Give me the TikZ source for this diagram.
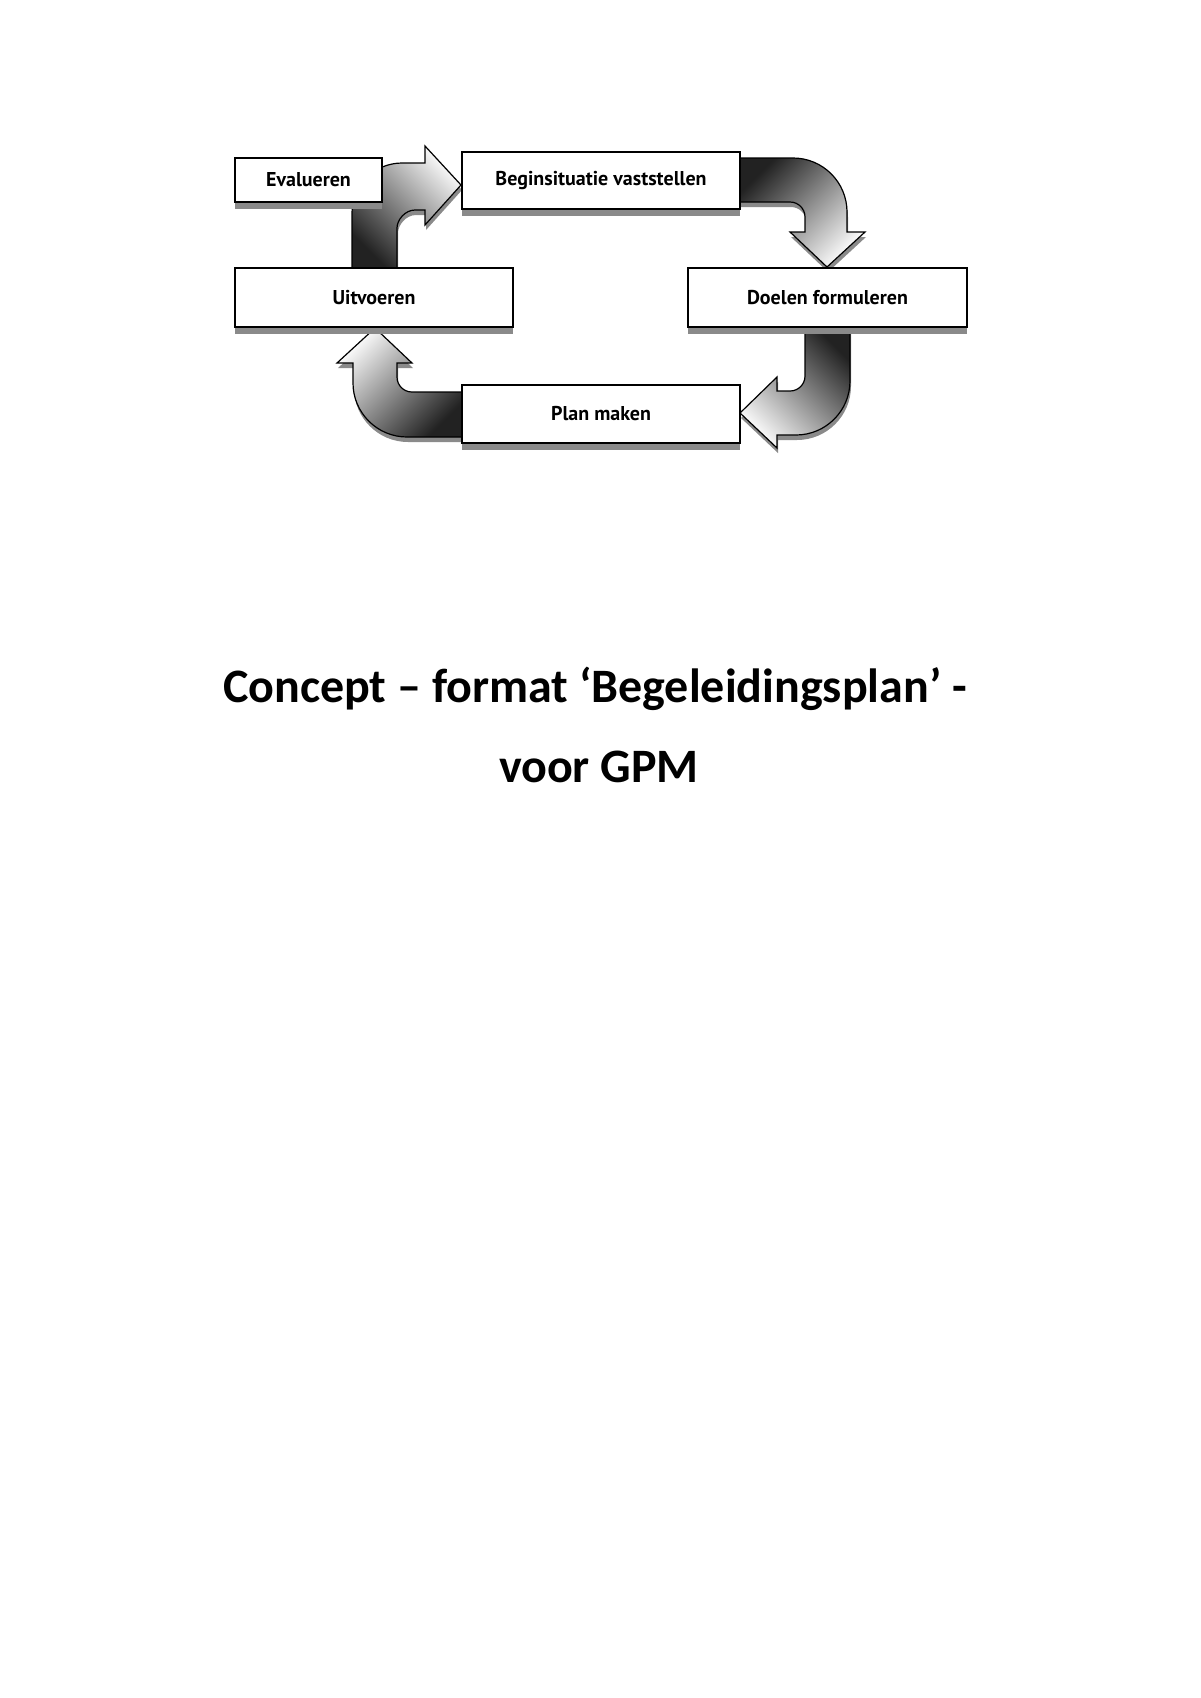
\documentclass[tikz,border=0pt]{standalone}
\usepackage{fontspec}
\setmainfont{Carlito}
\newfontfamily\boxfont{PT Sans}
\usetikzlibrary{shadows}
\definecolor{shgray}{HTML}{8A8A8A}
\definecolor{ardark}{HTML}{222222}
\definecolor{arlight}{HTML}{FAFAFA}
\tikzset{
  stepbox/.style={draw=black, line width=0.8pt, fill=white, inner sep=0pt,
    font=\boxfont\bfseries\fontsize{10}{12}\selectfont,
    drop shadow={shadow xshift=0pt, shadow yshift=-3.5pt, fill=shgray, opacity=1}},
  arshadow/.style={fill=shgray, shift={(1,5)}},
  arline/.style={draw=black, line width=0.6pt},
  titletext/.style={font=\bfseries\fontsize{24}{29}\selectfont, inner sep=0pt, anchor=base}
}
\def\gpmArrowA{(352,268) -- (352,213) .. controls (352,185.4) and (374.4,163) .. (402,163) -- (425,163) -- (425,146) -- (461,185) -- (425,225) -- (425,210) -- (415,210) .. controls (405.06,210) and (397,219.94) .. (397,228) -- (397,268) -- cycle}
\def\gpmArrowB{(740,158) -- (793,158) .. controls (822.8,158) and (847,182.2) .. (847,212) -- (847,232) -- (865,232) -- (827,267) -- (790,232) -- (805,232) -- (805,217) .. controls (805,208.7) and (798.3,202) .. (790,202) -- (740,202) -- cycle}
\def\gpmArrowC{(850,327) -- (850,381) .. controls (850,410.8) and (825.8,435) .. (796,435) -- (777,435) -- (777,448) -- (740,413) -- (777,377) -- (777,391) -- (790,391) .. controls (798.3,391) and (805,384.3) .. (805,376) -- (805,327) -- cycle}
\def\gpmArrowD{(462,392) -- (412,392) .. controls (403.7,392) and (397,385.3) .. (397,377) -- (397,363) -- (412,363) -- (375,328) -- (337,363) -- (353,363) -- (353,383) .. controls (353,412.8) and (377.2,437) .. (407,437) -- (462,437) -- cycle}
\begin{document}
\begin{tikzpicture}[x=0.5pt,y=-0.5pt]
\useasboundingbox[fill=white] (0,0) rectangle (1200,1698);
% arrows: shadows
\fill[arshadow] \gpmArrowA;
\fill[arshadow] \gpmArrowB;
\fill[arshadow] \gpmArrowC;
\fill[arshadow] \gpmArrowD;
% arrows: shaded bodies (dark at the start, light at the head)
\shade[left color=ardark, right color=arlight, shading angle=135] \gpmArrowA;
\draw[arline] \gpmArrowA;
\shade[left color=ardark, right color=arlight, shading angle=45] \gpmArrowB;
\draw[arline] \gpmArrowB;
\shade[left color=ardark, right color=arlight, shading angle=-45] \gpmArrowC;
\draw[arline] \gpmArrowC;
\shade[left color=ardark, right color=arlight, shading angle=-135] \gpmArrowD;
\draw[arline] \gpmArrowD;
% boxes
\node[stepbox, minimum width=73.5pt, minimum height=22pt] (ev) at (308.5,180) {Evalueren};
\node[stepbox, minimum width=139pt, minimum height=28.5pt] (bv) at (601,180.5) {Beginsituatie vaststellen\hspace{7pt}};
\node[stepbox, minimum width=139pt, minimum height=29.5pt] (ui) at (374,297.5) {Uitvoeren};
\node[stepbox, minimum width=139.5pt, minimum height=29.5pt] (df) at (827.5,297.5) {Doelen formuleren};
\node[stepbox, minimum width=139pt, minimum height=29pt] (pm) at (601,414) {Plan maken\hspace{7pt}};
% title
\node[titletext] (t1) at (595,702) {Concept – format ‘Begeleidingsplan’ -};
\node[titletext] (t2) at (599,782.7) {voor GPM};
\end{tikzpicture}
\end{document}
